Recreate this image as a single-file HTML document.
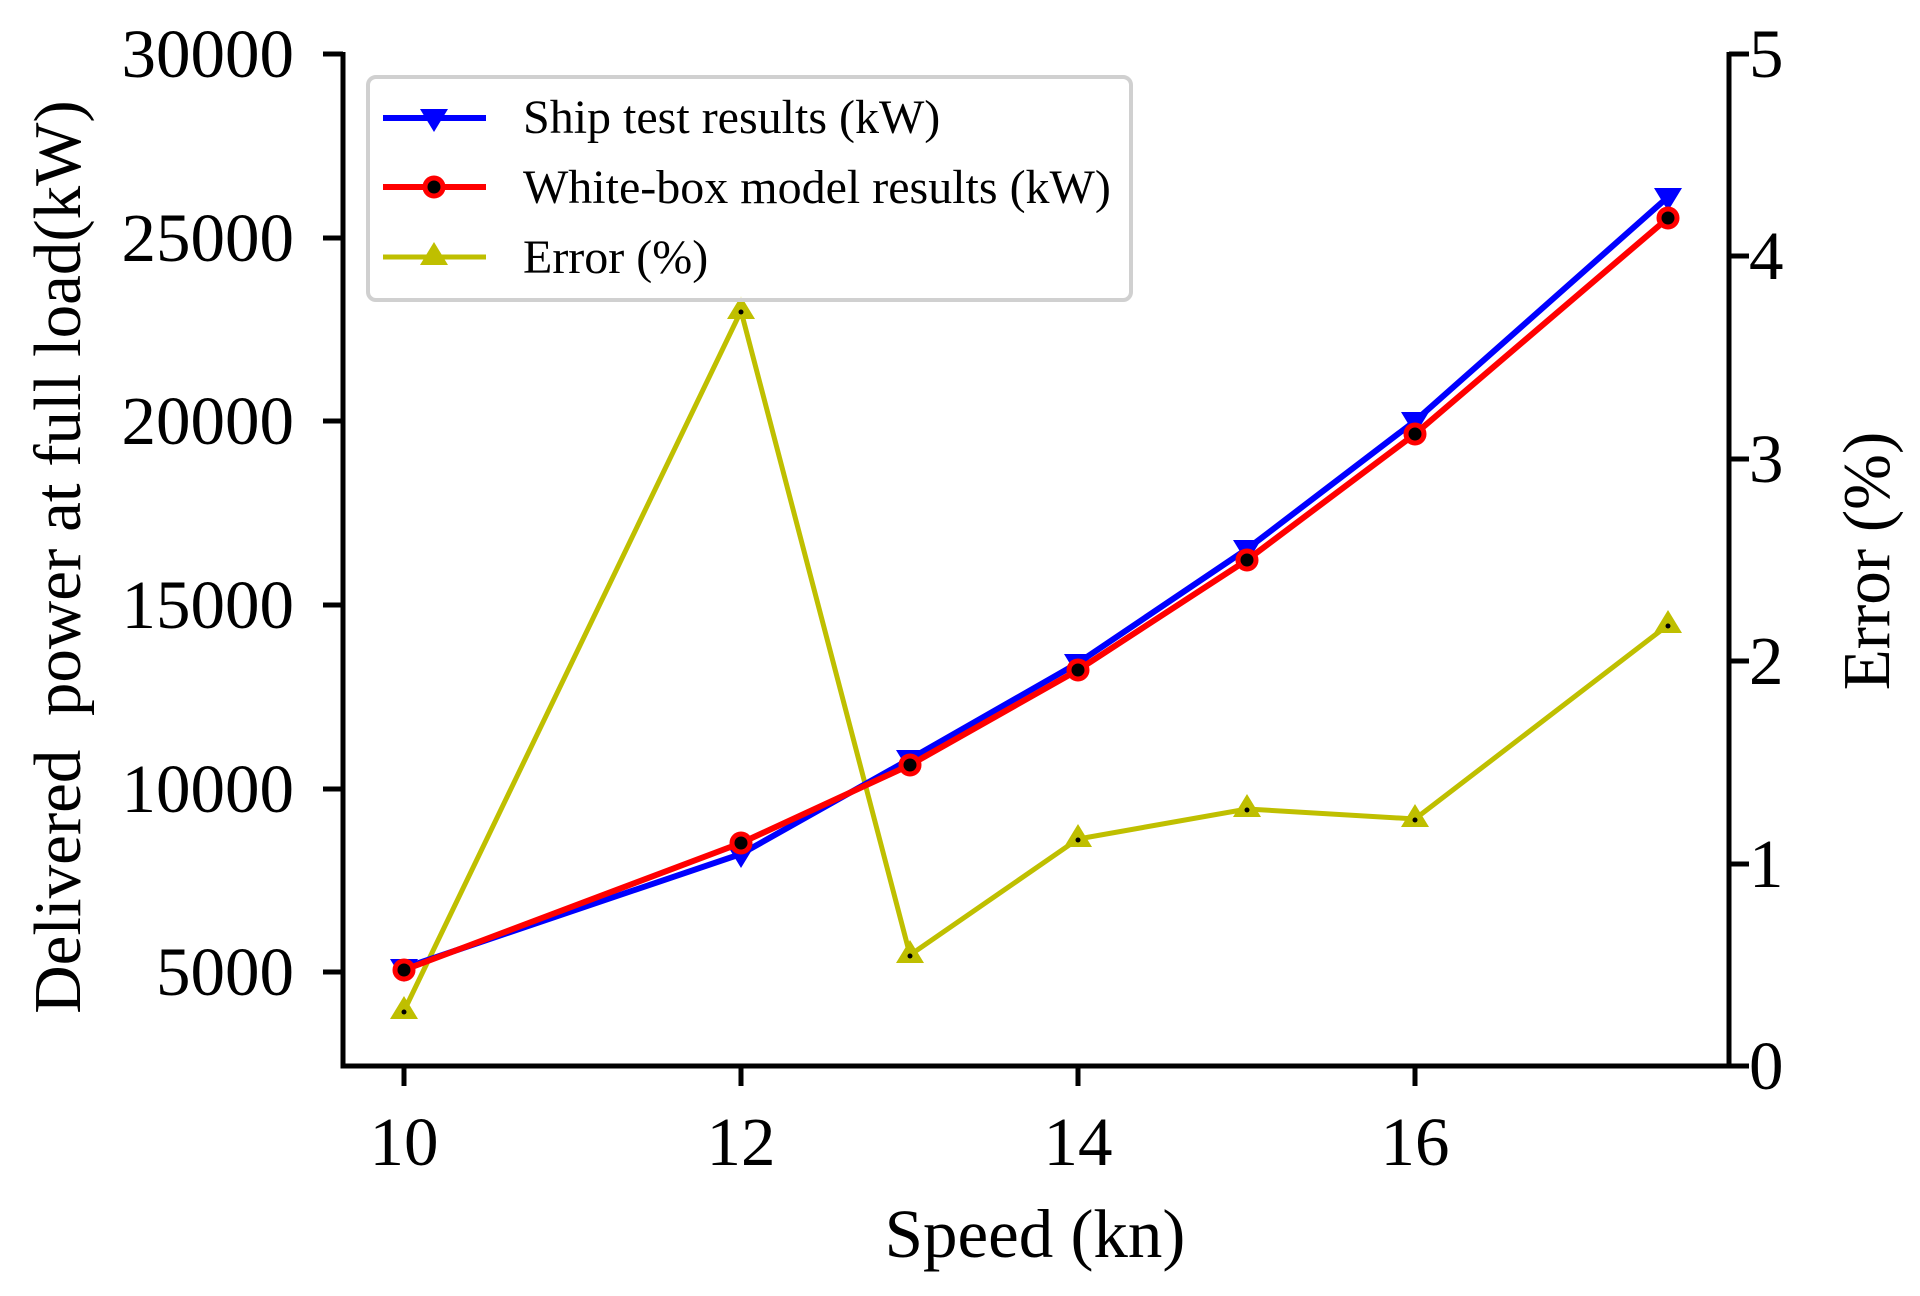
<!DOCTYPE html>
<html><head><style>body{margin:0;background:#fff}svg{display:block}</style></head><body>
<svg width="1920" height="1296" viewBox="0 0 1920 1296" xmlns="http://www.w3.org/2000/svg" font-family="Liberation Serif, serif">
<rect width="1920" height="1296" fill="#fff"/>
<g stroke="#000" stroke-width="5" fill="none">
<path d="M343 52 V1066 H1729 V52"/>
<path d="M323 54 H343 M323 238 H343 M323 421 H343 M323 605 H343 M323 789 H343 M323 972 H343"/>
<path d="M1729 54 H1749 M1729 256 H1749 M1729 459 H1749 M1729 661 H1749 M1729 864 H1749 M1729 1066 H1749"/>
<path d="M404 1066 V1086 M741 1066 V1086 M1078 1066 V1086 M1415 1066 V1086"/>
</g>
<g font-size="69" fill="#000" text-anchor="end">
<text x="294" y="77">30000</text><text x="294" y="261">25000</text><text x="294" y="444">20000</text>
<text x="294" y="628">15000</text><text x="294" y="812">10000</text><text x="294" y="995">5000</text>
</g>
<g font-size="69" fill="#000">
<text x="1749" y="77">5</text><text x="1749" y="279">4</text><text x="1749" y="482">3</text>
<text x="1749" y="684">2</text><text x="1749" y="887">1</text><text x="1749" y="1089">0</text>
</g>
<g font-size="69" fill="#000" text-anchor="middle">
<text x="404" y="1165">10</text><text x="741" y="1165">12</text><text x="1078" y="1165">14</text><text x="1415" y="1165">16</text>
<text x="1035" y="1257">Speed (kn)</text>
<text transform="translate(80,557) rotate(-90)" font-size="67" xml:space="preserve">Delivered  power at full load(kW)</text>
<text transform="translate(1889,561) rotate(-90)" font-size="67">Error (%)</text>
</g>
<!-- error -->
<polyline fill="none" stroke="#bfbf00" stroke-width="5" points="404,1011 741,311 910,955 1078,839 1247,809 1415,819 1668,625"/>
<g fill="#bfbf00">
<path d="M404 996 l-14 23 h28z M741 296 l-14 23 h28z M910 940 l-14 23 h28z M1078 824 l-14 23 h28z M1247 794 l-14 23 h28z M1415 804 l-14 23 h28z M1668 610 l-14 23 h28z"/>
</g>
<g fill="#000"><circle cx="404" cy="1012" r="2.5"/><circle cx="741" cy="312" r="2.5"/><circle cx="910" cy="956" r="2.5"/><circle cx="1078" cy="840" r="2.5"/><circle cx="1247" cy="810" r="2.5"/><circle cx="1415" cy="820" r="2.5"/><circle cx="1668" cy="626" r="2.5"/></g>
<!-- ship test -->
<polyline fill="none" stroke="#0000ff" stroke-width="6" points="404,968 741,854 910,759 1078,663 1247,549 1415,421 1668,197"/>
<g fill="#0000ff">
<path d="M390 959 h28 l-14 23z M727 845 h28 l-14 23z M896 750 h28 l-14 23z M1064 654 h28 l-14 23z M1233 540 h28 l-14 23z M1401 412 h28 l-14 23z M1654 188 h28 l-14 23z"/>
</g>
<!-- white box -->
<polyline fill="none" stroke="#ff0000" stroke-width="6" points="404,970 741,843 910,765 1078,670 1247,560 1415,434 1668,218"/>
<g fill="#000" stroke="#ff0000" stroke-width="5">
<circle cx="404" cy="970" r="9"/><circle cx="741" cy="843" r="9"/><circle cx="910" cy="765" r="9"/><circle cx="1078" cy="670" r="9"/><circle cx="1247" cy="560" r="9"/><circle cx="1415" cy="434" r="9"/><circle cx="1668" cy="218" r="9"/>
</g>
<!-- legend -->
<rect x="368" y="77" width="763" height="223" rx="8" fill="#fff" fill-opacity="0.85" stroke="#d0d0d0" stroke-width="4"/>
<line x1="383" y1="118" x2="486" y2="118" stroke="#0000ff" stroke-width="6"/>
<path d="M420 109 h28 l-14 23z" fill="#0000ff"/>
<line x1="383" y1="187" x2="486" y2="187" stroke="#ff0000" stroke-width="6"/>
<circle cx="434" cy="187" r="9" fill="#000" stroke="#ff0000" stroke-width="5"/>
<line x1="383" y1="257" x2="486" y2="257" stroke="#bfbf00" stroke-width="5"/>
<path d="M434 242 l-14 23 h28z" fill="#bfbf00"/>
<g font-size="48" fill="#000">
<text x="523" y="133">Ship test results (kW)</text>
<text x="523" y="203">White-box model results (kW)</text>
<text x="523" y="273">Error (%)</text>
</g>
</svg>
</body></html>
